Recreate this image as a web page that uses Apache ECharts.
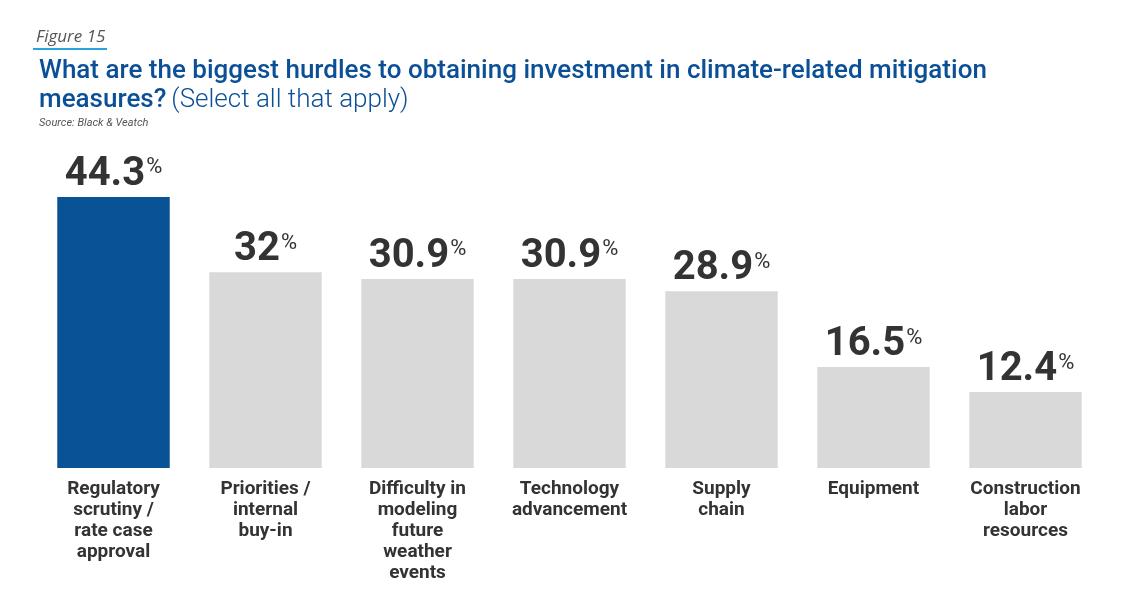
<!DOCTYPE html>
<html>
<head>
<meta charset="utf-8">
<script src="https://cdn.jsdelivr.net/npm/echarts@6/dist/echarts.min.js"></script>
<style>
html,body{margin:0;padding:0;background:#fff;}
#chart{width:1140px;height:600px;}
</style>
</head>
<body>
<div id="chart"></div>
<script>
const categories = [
  "Regulatory\nscrutiny /\nrate case\napproval",
  "Priorities /\ninternal\nbuy-in",
  "Difficulty in\nmodeling\nfuture\nweather\nevents",
  "Technology\nadvancement",
  "Supply\nchain",
  "Equipment",
  "Construction\nlabor\nresources"
];
const values = [44.3, 32, 30.9, 30.9, 28.9, 16.5, 12.4];
const highlightIndex = 0;

const chart = echarts.init(document.getElementById('chart'));
const option = {
  backgroundColor: '#ffffff',
  animation: false,
  title: [
    {
      text: 'Figure 15',
      left: 36, top: 26, padding: 0,
      textStyle: { fontFamily: 'Open Sans', fontStyle: 'italic', fontWeight: 'normal', fontSize: 17, lineHeight: 22, color: '#555555' }
    },
    {
      text: '{a|What are the biggest hurdles to obtaining investment in climate-related mitigation}\n{a|measures?} {b|(Select all that apply)}',
      left: 39, top: 57, padding: 0,
      textStyle: {
        rich: {
          a: { fontFamily: 'Roboto', fontWeight: 500, fontSize: 26, lineHeight: 29, color: '#0b4f97' },
          b: { fontFamily: 'Roboto', fontWeight: 300, fontSize: 26, lineHeight: 29, color: '#0b4f97' }
        }
      }
    },
    {
      text: 'Source: Black & Veatch',
      left: 39, top: 116, padding: 0,
      textStyle: { fontFamily: 'Roboto', fontStyle: 'italic', fontWeight: 'normal', fontSize: 11, lineHeight: 14, color: '#555555' }
    }
  ],
  graphic: [
    { type: 'rect', shape: { x: 33, y: 48, width: 74, height: 2 }, style: { fill: '#29a3dd' } }
  ],
  grid: { left: 37.5, right: 38.5, top: 162, bottom: 132, containLabel: false },
  xAxis: {
    type: 'category',
    data: categories,
    axisLine: { show: false },
    axisTick: { show: false },
    axisLabel: {
      interval: 0,
      margin: 11,
      fontFamily: 'Roboto', fontWeight: 'bold', fontSize: 19, lineHeight: 21, color: '#333333',
      align: 'center', verticalAlign: 'top'
    }
  },
  yAxis: {
    type: 'value', min: 0, max: 50,
    show: false,
    splitLine: { show: false }
  },
  series: [{
    type: 'bar',
    data: values.map((v, i) => ({
      value: v,
      itemStyle: { color: i === highlightIndex ? '#0a5296' : '#d9d9d9' }
    })),
    barCategoryGap: '26%',
    label: {
      show: true,
      position: 'top',
      distance: 2,
      formatter: p => '{v|' + p.value + '}{p|%}',
      rich: {
        v: { fontFamily: 'Roboto', fontWeight: 'bold', fontSize: 40, lineHeight: 40, color: '#333333' },
        p: { fontFamily: 'Roboto', fontWeight: 'normal', fontSize: 22, lineHeight: 22, color: '#333333', verticalAlign: 'top', padding: [2, 0, 0, 1] }
      }
    }
  }]
};
chart.setOption(option);
</script>
</body>
</html>
